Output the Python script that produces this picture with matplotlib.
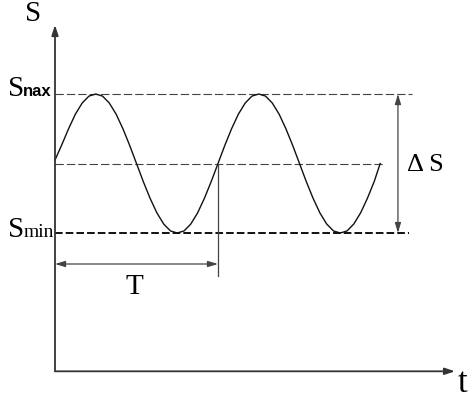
import matplotlib
matplotlib.use("Agg")
import matplotlib.pyplot as plt

plt.rcParams["lines.scale_dashes"] = False

# --- data (t in periods, S normalised: mean 0, amplitude 1) ---
t_vals = [0.0, 0.0417, 0.0833, 0.125, 0.1667, 0.2083, 0.25, 0.2917, 0.3333, 0.375,
          0.4167, 0.4583, 0.5, 0.5417, 0.5833, 0.625, 0.6667, 0.7083, 0.75, 0.7917,
          0.8333, 0.875, 0.9167, 0.9583, 1.0, 1.0417, 1.0833, 1.125, 1.1667, 1.2083,
          1.25, 1.2917, 1.3333, 1.375, 1.4167, 1.4583, 1.5, 1.5417, 1.5833, 1.625,
          1.6667, 1.7083, 1.75, 1.7917, 1.8333, 1.875, 1.9167, 1.9583, 1.995]
s_vals = [0.05, 0.27, 0.50, 0.71, 0.87, 0.97, 1.0, 0.97, 0.87, 0.71,
          0.50, 0.26, 0.0, -0.26, -0.50, -0.71, -0.87, -0.97, -1.0, -0.97,
          -0.87, -0.71, -0.50, -0.26, 0.0, 0.26, 0.50, 0.71, 0.87, 0.97,
          1.0, 0.97, 0.87, 0.71, 0.50, 0.26, 0.0, -0.26, -0.50, -0.71,
          -0.87, -0.97, -1.0, -0.97, -0.87, -0.71, -0.50, -0.26, 0.0]
s_max = 1.0
s_mean = 0.0
s_min = -1.0
period = 1.0

labels = {"y": "S", "x": "t", "smax_main": "S", "smax_sub": "nax",
          "smin_main": "S", "smin_sub": "min", "period": "T", "delta": "\u0394 S"}

fig = plt.figure(figsize=(4.74, 4.0), dpi=100)
ax = fig.add_axes([0, 0, 1, 1])
ax.set_xlim(-0.3374, 2.5706)
ax.set_ylim(-3.403, 2.353)
ax.axis("off")

serif = ["Liberation Serif", "DejaVu Serif"]
sans = ["Liberation Sans", "DejaVu Sans"]

# reference levels
ax.plot([0, 2.19], [s_max, s_max], color="#444444", lw=0.8, dashes=(6, 2.2))
ax.plot([0, 2.02], [s_mean, s_mean], color="#444444", lw=0.8, dashes=(6, 2.2))
ax.plot([0, 2.17], [s_min, s_min], color="#111111", lw=1.4, dashes=(5.5, 2.2))

# curve
ax.plot(t_vals, s_vals, color="#111111", lw=1.0)

axis_col = "#333333"
ap = dict(arrowstyle="-|>,head_length=0.6,head_width=0.2", color=axis_col, lw=1.3,
          shrinkA=0, shrinkB=0)
# axes with arrows
ax.annotate("", xy=(0, 1.993), xytext=(0, -2.99), arrowprops=ap)
ax.annotate("", xy=(2.454, -2.99), xytext=(0, -2.99), arrowprops=ap)

# period marker
ax.plot([period, period], [s_mean, -1.62], color="#444444", lw=0.9)
ap2 = dict(arrowstyle="<|-|>,head_length=0.6,head_width=0.18", color="#444444", lw=0.9,
           shrinkA=0, shrinkB=0)
ax.annotate("", xy=(period, -1.446), xytext=(0, -1.446), arrowprops=ap2)

# delta S marker
ax.annotate("", xy=(2.104, s_max), xytext=(2.104, s_min), arrowprops=ap2)

# texts
ax.text(-0.135, 2.151, labels["y"], family=serif, fontsize=21, ha="center", va="center")
ax.text(2.47, -3.29, labels["x"], family=serif, fontsize=25, ha="left", va="baseline")
ax.text(-0.192, 0.975, labels["smax_main"], family=serif, fontsize=21, ha="right", va="baseline")
ax.text(-0.194, 0.975, labels["smax_sub"], family=sans, fontsize=12, fontweight="bold",
        fontstretch="condensed", ha="left", va="baseline")
ax.text(-0.192, -1.058, labels["smin_main"], family=serif, fontsize=21, ha="right", va="baseline")
ax.text(-0.194, -1.058, labels["smin_sub"], family=serif, fontsize=14,
        fontstretch="condensed", ha="left", va="baseline")
ax.text(0.485, -1.878, labels["period"], family=serif, fontsize=21, ha="center", va="baseline")
ax.text(2.16, -0.02, labels["delta"], family=serif, fontsize=19, ha="left", va="center")

fig.savefig("out.png", dpi=100, facecolor="white")
